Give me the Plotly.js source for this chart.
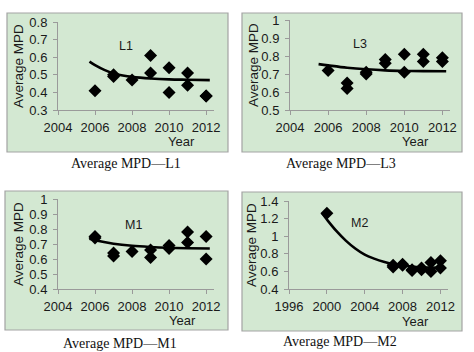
<!DOCTYPE html>
<html>
<head>
<meta charset="utf-8">
<script src="https://cdn.plot.ly/plotly-3.0.1.min.js"></script>
<style>body{margin:0;padding:0;background:#fff}#chart{width:474px;height:352px}</style>
</head>
<body>
<div id="chart"></div>
<script>
// ---- data ----
const l1Years = [2006, 2007, 2007, 2008, 2009, 2009, 2010, 2010, 2011, 2011, 2012, 2012];
const l1Values = [0.41, 0.49, 0.50, 0.47, 0.61, 0.51, 0.54, 0.40, 0.51, 0.44, 0.38, 0.38];
const l1TrendYears = [2005.7, 2006, 2006.5, 2007, 2007.5, 2008, 2009, 2010, 2011, 2012.2];
const l1TrendValues = [0.575, 0.555, 0.528, 0.508, 0.496, 0.488, 0.479, 0.474, 0.472, 0.470];

const l3Years = [2006, 2007, 2007, 2008, 2008, 2009, 2009, 2010, 2010, 2011, 2011, 2012, 2012];
const l3Values = [0.72, 0.65, 0.62, 0.70, 0.71, 0.78, 0.76, 0.81, 0.71, 0.81, 0.77, 0.79, 0.77];
const l3TrendYears = [2005.5, 2006, 2007, 2008, 2009, 2010, 2011, 2012.2];
const l3TrendValues = [0.755, 0.748, 0.735, 0.726, 0.72, 0.717, 0.716, 0.715];

const m1Years = [2006, 2006, 2007, 2007, 2008, 2009, 2009, 2010, 2010, 2011, 2011, 2012, 2012];
const m1Values = [0.75, 0.74, 0.64, 0.62, 0.65, 0.66, 0.61, 0.69, 0.67, 0.78, 0.71, 0.75, 0.60];
const m1TrendYears = [2005.7, 2006, 2007, 2008, 2009, 2010, 2011, 2012.2];
const m1TrendValues = [0.735, 0.725, 0.702, 0.688, 0.68, 0.675, 0.672, 0.670];

const m2Years = [2000, 2007, 2007, 2008, 2008, 2009, 2009, 2010, 2010, 2011, 2011, 2012, 2012];
const m2Values = [1.26, 0.67, 0.65, 0.68, 0.67, 0.62, 0.61, 0.64, 0.62, 0.70, 0.60, 0.72, 0.64];
const m2TrendYears = [1999.5, 2000, 2001, 2002, 2003, 2004, 2005, 2006, 2007, 2008, 2009, 2010, 2011, 2012];
const m2TrendValues = [1.26, 1.19, 1.06, 0.95, 0.86, 0.79, 0.745, 0.71, 0.685, 0.668, 0.656, 0.648, 0.643, 0.64];

const panelLabels = ["L1", "L3", "M1", "M2"];
const captions = ["Average MPD\u2014L1", "Average MPD\u2014L3", "Average MPD\u2014M1", "Average MPD\u2014M2"];
const yTitle = "Average MPD";
const xTitle = "Year";

// ---- layout helpers ----
const W = 474, H = 352;
const px = v => v / W;
const py = v => 1 - v / H;

const panels = [
  {xs: l1Years, ys: l1Values, tx: l1TrendYears, ty: l1TrendValues,
   xr: [2004, 2012.4], xd: [58, 213.5], yr: [0.3, 0.8], yd: [22, 110], dx: 2, dy: 0.1,
   box: [7, 13, 228, 152], lab: [2007.7, 0.665], yt: 18, xt: [181, 141], cap: [126, 163]},
  {xs: l3Years, ys: l3Values, tx: l3TrendYears, ty: l3TrendValues,
   xr: [2004, 2012.4], xd: [290, 450], yr: [0.5, 1.0], yd: [20, 110], dx: 2, dy: 0.1,
   box: [242, 13, 462, 152], lab: [2007.7, 0.865], yt: 253, xt: [415, 141], cap: [341, 163]},
  {xs: m1Years, ys: m1Values, tx: m1TrendYears, ty: m1TrendValues,
   xr: [2004, 2012.4], xd: [58, 213.5], yr: [0.4, 1.0], yd: [199, 289], dx: 2, dy: 0.1,
   box: [5, 191, 228, 330], lab: [2008.1, 0.83], yt: 18, xt: [182, 320], cap: [120, 343]},
  {xs: m2Years, ys: m2Values, tx: m2TrendYears, ty: m2TrendValues,
   xr: [1996, 2012.8], xd: [289, 448], yr: [0.4, 1.4], yd: [201, 289], dx: 4, dy: 0.2,
   box: [242, 192, 462, 331], lab: [2003.5, 1.15], yt: 251, xt: [415, 321], cap: [340, 341]}
];

const traces = [];
const layout = {
  width: W, height: H,
  margin: {l: 0, r: 0, t: 0, b: 0},
  paper_bgcolor: "#ffffff",
  plot_bgcolor: "rgba(0,0,0,0)",
  showlegend: false,
  font: {family: "Liberation Sans, Arial, sans-serif", color: "#1a1a1a", size: 12},
  shapes: [], annotations: []
};

panels.forEach((p, i) => {
  const n = i === 0 ? "" : String(i + 1);
  traces.push({
    x: p.tx, y: p.ty, xaxis: "x" + n, yaxis: "y" + n, type: "scatter", mode: "lines",
    line: {color: "#000", width: 2.6, shape: "spline"}, hoverinfo: "skip"
  });
  traces.push({
    x: p.xs, y: p.ys, xaxis: "x" + n, yaxis: "y" + n, type: "scatter", mode: "markers",
    marker: {symbol: "diamond", size: 10, color: "#000"}
  });
  const axCommon = {showgrid: false, zeroline: false, showline: true, linecolor: "#9a9a9a", linewidth: 1,
    ticks: "outside", ticklen: 4, tickcolor: "#9a9a9a", tickfont: {size: 13, color: "#1a1a1a"}, fixedrange: true};
  layout["xaxis" + n] = Object.assign({}, axCommon, {
    range: p.xr, domain: [px(p.xd[0]), px(p.xd[1])], anchor: "y" + n,
    tick0: 1996, dtick: p.dx, ticklabelstandoff: 1
  });
  layout["yaxis" + n] = Object.assign({}, axCommon, {
    range: p.yr, domain: [py(p.yd[1]), py(p.yd[0])], anchor: "x" + n,
    dtick: p.dy, tick0: 0, ticklabelstandoff: 3
  });
  layout.shapes.push({type: "rect", xref: "paper", yref: "paper", layer: "below",
    x0: px(p.box[0]), x1: px(p.box[2]), y0: py(p.box[3]), y1: py(p.box[1]),
    fillcolor: "#d3e8d2", line: {color: "#a3a3a3", width: 1.2}});
  layout.annotations.push({xref: "x" + n, yref: "y" + n, x: p.lab[0], y: p.lab[1],
    xanchor: "center", yanchor: "middle",
    text: panelLabels[i], showarrow: false, font: {size: 12.5, color: "#1a1a1a"}});
  layout.annotations.push({xref: "paper", yref: "paper", x: px(p.yt), y: py((p.yd[0] + p.yd[1]) / 2),
    xanchor: "center", yanchor: "middle",
    text: yTitle, textangle: -90, showarrow: false, font: {size: 13.5, color: "#1a1a1a"}});
  layout.annotations.push({xref: "paper", yref: "paper", x: px(p.xt[0]), y: py(p.xt[1]),
    xanchor: "center", yanchor: "middle",
    text: xTitle, showarrow: false, font: {size: 13, color: "#1a1a1a"}});
  layout.annotations.push({xref: "paper", yref: "paper", x: px(p.cap[0]), y: py(p.cap[1]),
    xanchor: "center", yanchor: "middle",
    text: captions[i], showarrow: false,
    font: {family: "Liberation Serif, Times New Roman, serif", size: 14, color: "#111"}});
});

Plotly.newPlot("chart", traces, layout, {staticPlot: true, displayModeBar: false});
</script>
</body>
</html>
